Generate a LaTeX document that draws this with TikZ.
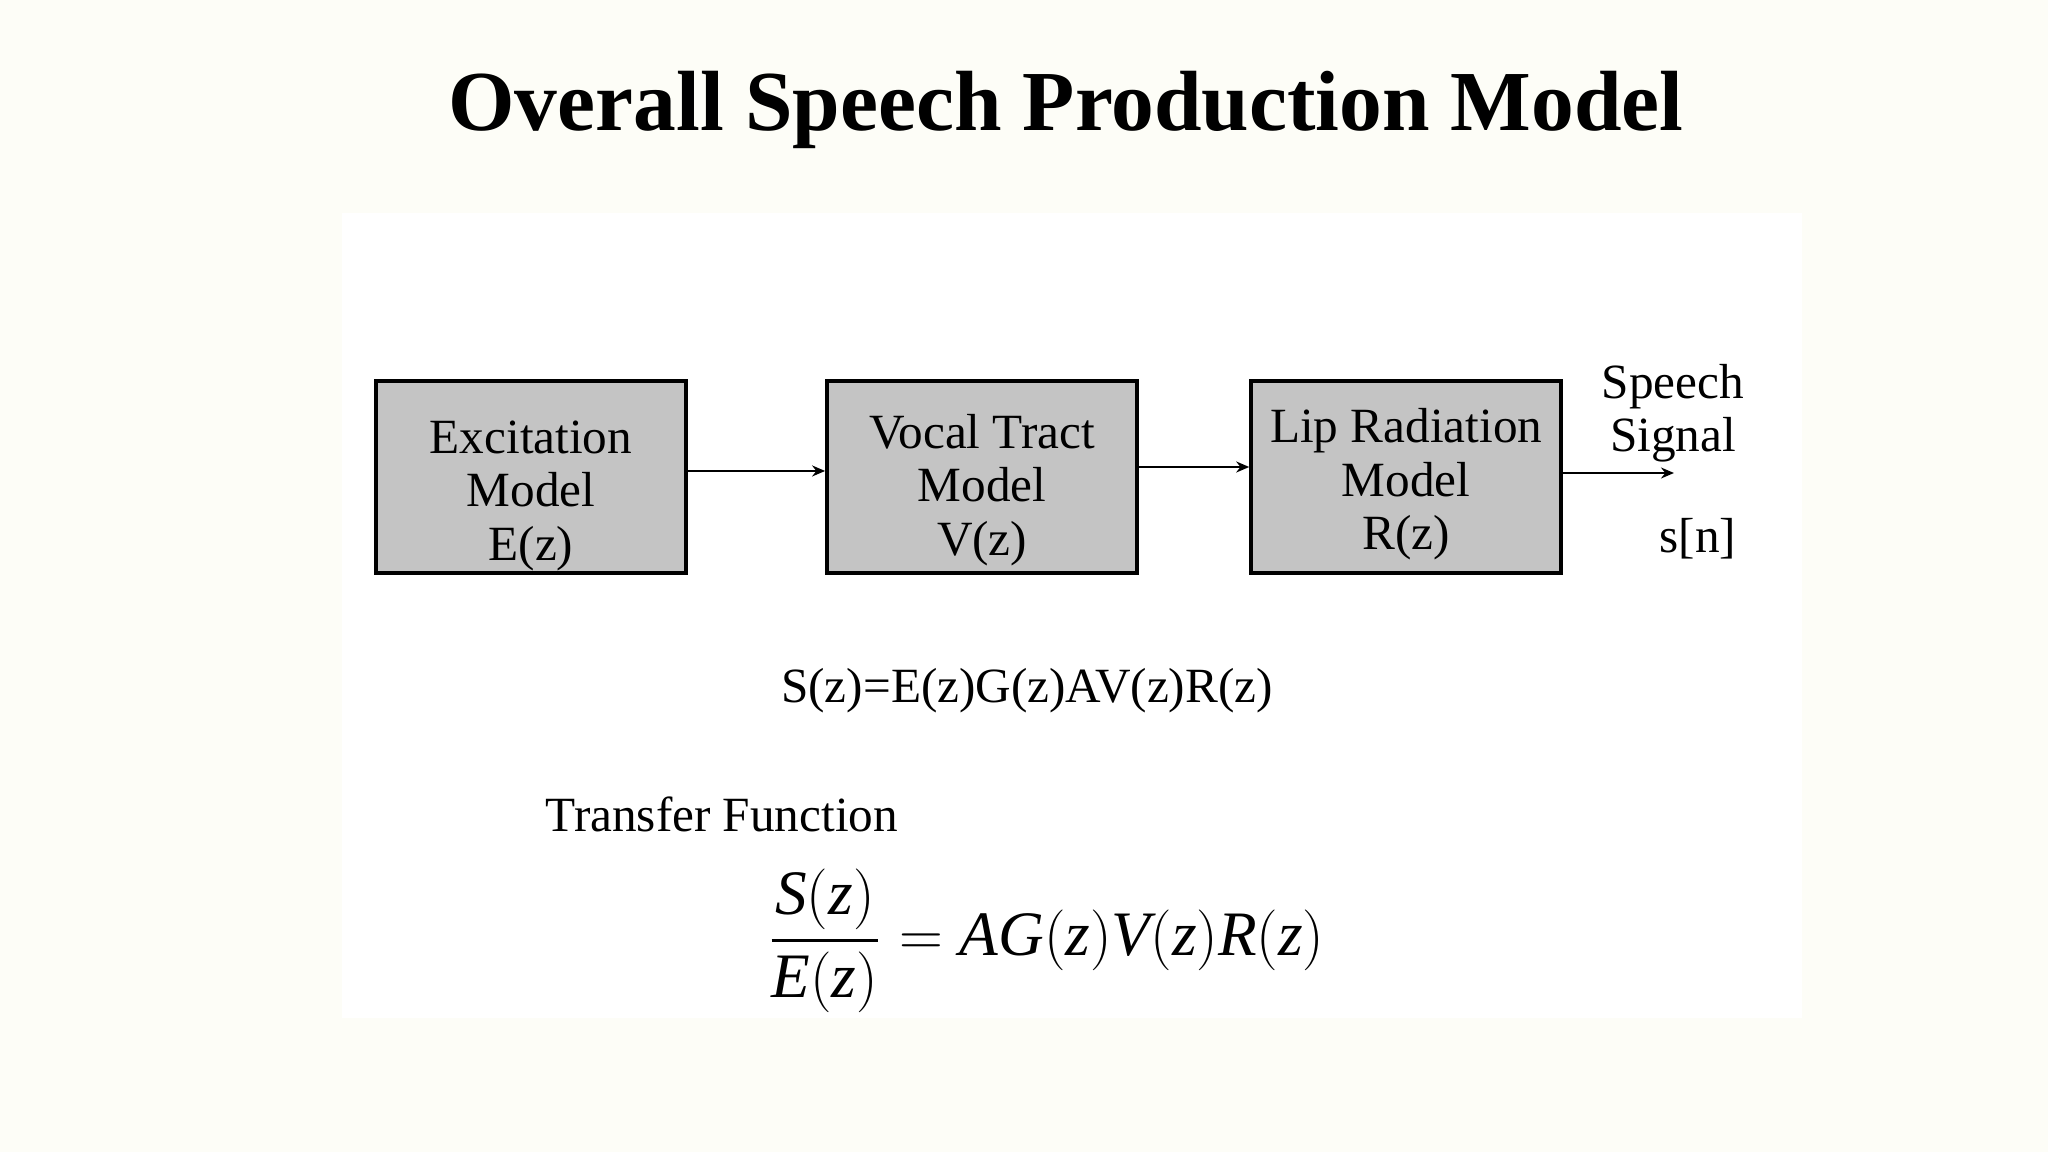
\documentclass[tikz,border=0pt]{standalone}
\usepackage{amsmath}
\usepackage{fontspec}
\setmainfont{Liberation Serif}
\usetikzlibrary{arrows.meta,positioning}
\definecolor{pagebg}{HTML}{FDFDF7}
\definecolor{blkfill}{HTML}{C4C4C4}
\newcommand{\lift}[1]{\rule{0pt}{#1}}
\tikzset{
  blk/.style  ={draw, line width=1.1pt, fill=blkfill, minimum width=3.1cm,
                minimum height=1.92cm, inner sep=0pt, align=center,
                font=\fontsize{14}{15.2}\selectfont},
  sig/.style  ={-{Stealth[length=1.3mm, width=1.1mm]}, line width=0.6pt},
  ttl/.style  ={font=\fontsize{24.3}{30}\selectfont\bfseries, inner sep=0pt},
  lab/.style  ={font=\fontsize{14}{15.2}\selectfont, inner sep=0pt, align=center},
  eqn/.style  ={font=\fontsize{18}{22}\selectfont, inner sep=0pt},
}

\begin{document}
\begin{tikzpicture}[x=0.01cm, y=-0.01cm]
  \fill[pagebg] (0,0) rectangle (2048,1152);
  \fill[white] (342,213) rectangle (1802,1018);
  \node[ttl, anchor=base] (title) at (1066,131) {Overall Speech Production Model};
  % the three model blocks
  \node[blk] (exc) at (531,477) {\lift{20pt}Excitation\\Model\\E(z)};
  \node[blk, right=1.37cm of exc] (voc) {\lift{17pt}Vocal Tract\\Model\\V(z)};
  \node[blk, right=1.10cm of voc] (lip) {\lift{14pt}Lip Radiation\\Model\\R(z)};
  \coordinate (out) at (1674,473);
  \draw[sig] ([yshift=0.6mm]exc.east) -- ([yshift=0.6mm]voc.west);
  \draw[sig] ([yshift=1mm]voc.east) -- ([yshift=1mm]lip.west);
  \draw[sig] (lip.east |- out) -- (out);
  \node[lab] (spch) at (1673,413) {Speech\\Signal};
  \node[lab] (sn) at (1698,539) {s[n]};
  % equations
  \node[lab] (prod) at (1027,691) {S(z)=E(z)G(z)AV(z)R(z)};
  \node[lab, anchor=base west] (tf) at (545,831) {Transfer Function};
  \node[eqn] (frac) at (1046,941)
    {$\dfrac{\textit{S}(\textit{z})}{\textit{E}(\textit{z})}
      = \textit{AG}(\textit{z})\textit{V}(\textit{z})\textit{R}(\textit{z})$};
\end{tikzpicture}
\end{document}
